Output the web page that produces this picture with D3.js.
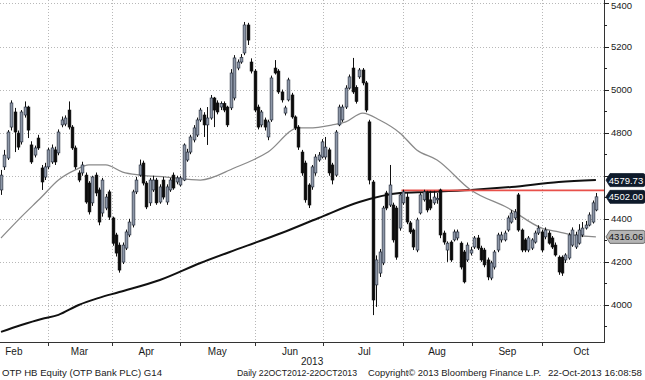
<!DOCTYPE html>
<html><head><meta charset="utf-8">
<script src="https://cdn.jsdelivr.net/npm/d3@7"></script>
<style>
body{margin:0;background:#fff;}
svg{display:block;font-family:"Liberation Sans",Arial,sans-serif;}
</style>
</head><body>
<svg id="c" width="645" height="380"></svg>
<script>
// ---- DATA (daily candles, trading-day index 0..176) ----
const open  = [4534,4641,4682,4826,4896,4798,4757,4882,4919,4743,4696,4775,4636,4594,4641,4664,4720,4706,4836,4840,4905,4826,4729,4613,4613,4603,4566,4474,4603,4534,4427,4450,4525,4404,4325,4278,4199,4264,4325,4371,4525,4603,4659,4566,4474,4534,4580,4478,4580,4478,4534,4603,4571,4557,4580,4673,4710,4766,4789,4859,4882,4836,4868,4961,4938,4919,4935,4919,4915,4961,5100,5128,5170,5300,5128,5086,4919,4836,4859,4780,4859,5100,5086,4989,4891,4952,4975,4873,4826,4710,4659,4557,4548,4613,4673,4687,4687,4720,4650,4603,4836,4859,4919,5007,5100,5010,5059,5091,5031,4850,4571,4093,4148,4195,4520,4464,4464,4450,4357,4474,4501,4381,4348,4255,4427,4488,4520,4488,4474,4488,4534,4334,4255,4292,4302,4311,4287,4246,4209,4241,4269,4311,4264,4255,4209,4125,4176,4255,4302,4302,4348,4385,4404,4511,4348,4302,4255,4264,4292,4334,4339,4316,4334,4311,4278,4222,4222,4209,4218,4278,4269,4287,4325,4357,4371,4385,4441];
const high  = [4627,4720,4812,4950,4915,4810,4905,4945,4925,4760,4740,4790,4650,4660,4730,4745,4735,4815,4875,4880,4945,4835,4740,4625,4665,4615,4575,4600,4615,4545,4590,4515,4535,4410,4335,4290,4290,4350,4400,4535,4595,4675,4670,4575,4590,4600,4590,4560,4595,4560,4590,4615,4600,4600,4750,4725,4790,4835,4870,4915,4895,4919,4975,4966,4950,4945,4945,4925,5095,5160,5140,5165,5314,5310,5145,5095,4930,4905,4870,4860,5065,5137,5095,5000,4925,5055,4985,4880,4835,4720,4670,4565,4650,4700,4710,4770,4780,4730,4660,4812,4930,4930,5020,5070,5147,5020,5100,5100,5040,4860,4580,4230,4260,4460,4530,4650,4475,4460,4520,4535,4520,4390,4355,4405,4520,4535,4530,4530,4530,4520,4540,4345,4295,4300,4350,4350,4295,4255,4290,4270,4320,4325,4275,4265,4220,4205,4255,4335,4340,4345,4415,4440,4445,4520,4355,4310,4320,4310,4345,4370,4350,4360,4345,4320,4290,4230,4230,4240,4335,4360,4340,4375,4385,4390,4430,4485,4520];
const low   = [4511,4627,4673,4810,4710,4720,4745,4870,4775,4655,4685,4720,4534,4580,4630,4655,4650,4695,4825,4830,4815,4720,4630,4570,4600,4470,4420,4460,4505,4370,4410,4440,4395,4275,4225,4150,4190,4255,4315,4360,4515,4595,4555,4445,4460,4525,4465,4470,4490,4465,4525,4535,4560,4550,4575,4665,4700,4755,4780,4850,4780,4743,4860,4826,4885,4905,4895,4826,4905,4950,5090,5120,5160,5207,5075,4895,4815,4825,4810,4765,4850,5070,4980,4940,4880,4945,4865,4812,4720,4600,4475,4450,4535,4600,4665,4680,4675,4600,4560,4595,4830,4850,4910,5000,4980,4935,5050,5020,4895,4560,3953,3991,4130,4185,4440,4455,4290,4210,4345,4465,4375,4330,4255,4245,4420,4480,4430,4440,4465,4470,4310,4280,4200,4200,4295,4300,4165,4100,4200,4230,4260,4255,4200,4175,4115,4115,4165,4245,4290,4295,4340,4378,4395,4340,4245,4245,4245,4255,4285,4325,4245,4305,4280,4260,4225,4140,4135,4195,4210,4270,4260,4280,4315,4350,4365,4378,4435];
const close = [4603,4696,4803,4938,4803,4733,4896,4919,4812,4664,4729,4729,4571,4641,4720,4729,4664,4803,4859,4868,4826,4729,4641,4580,4650,4478,4432,4594,4520,4385,4580,4501,4408,4287,4241,4162,4278,4339,4385,4525,4580,4650,4566,4455,4580,4580,4474,4548,4501,4548,4580,4543,4590,4590,4743,4710,4780,4822,4859,4905,4836,4868,4961,4905,4896,4935,4905,4836,5077,5147,5128,5150,5300,5230,5086,4905,4826,4896,4826,4850,5054,5077,4989,4952,4915,5045,4873,4822,4733,4613,4488,4464,4641,4687,4696,4757,4733,4613,4580,4803,4919,4919,5007,5059,4989,4945,5091,5031,4905,4580,4023,4209,4246,4450,4450,4557,4302,4222,4511,4525,4385,4339,4269,4395,4511,4525,4441,4450,4501,4495,4325,4292,4287,4209,4339,4339,4176,4107,4278,4255,4311,4264,4209,4186,4130,4195,4246,4325,4325,4334,4404,4427,4432,4348,4255,4255,4311,4302,4334,4357,4255,4348,4287,4269,4232,4153,4148,4232,4325,4348,4325,4348,4357,4371,4418,4474,4502];

// moving averages at selected trading-day indices
const ma50Idx  = [0,6,12,17,22,26,31,36,41,49,59,69,79,88,91,98,102,107,112,118,123,129,139,150,160,165,169,176];
const ma50Val  = [4311,4409,4501,4580,4627,4650,4650,4617,4603,4594,4580,4636,4710,4822,4822,4836,4850,4891,4859,4799,4720,4673,4534,4450,4357,4339,4325,4316.06];
const ma200Idx = [0,6,12,17,23,29,35,47,59,71,83,94,106,118,126,139,151,165,176];
const ma200Val = [3875,3907,3935,3954,4000,4033,4060,4116,4195,4265,4334,4404,4478,4520,4525,4534,4548,4571,4579.73];

const lastPrice = 4502.00;
const ma50Last = 4316.06;
const ma200Last = 4579.73;
const trendLevel = 4532;
const trendStartIdx = 118.5;

const yTicks = [4000,4200,4400,4600,4800,5000,5200,5400];
const yMinorTicks = [3900,4100,4300,4500,4700,4900,5100,5300];
const yLabelTicks = [4000,4200,4400,4800,5000,5200,5400];
const monthNames = ["Feb","Mar","Apr","May","Jun","Jul","Aug","Sep","Oct"];
const monthLabelIdx = [3.8,23.2,43,64,85.5,107.5,129,149.8,171.7];
const monthTickIdx = [13.8,32.8,53,75.1,95.3,118.8,139.3,160];
const yearLabel = "2013";
const yearLabelIdx = 88.5;
const footerLeft = "OTP HB Equity (OTP Bank PLC) G14";
const footerMid = "Daily 22OCT2012-22OCT2013";
const footerCopy = "Copyright\u00A9 2013 Bloomberg Finance L.P.";
const footerStamp = "22-Oct-2013 16:08:58";

// ---- CHART ----
const svg = d3.select("#c");
const plotR = 604, plotB = 342;
const x = d3.scaleLinear().domain([-0.296, 178.4]).range([0, plotR]);
const y = d3.scaleLinear().domain([3828, 5416]).range([plotB, 0]);

const g = svg.append("g");

// gridlines
g.selectAll("line.hg").data(yTicks).join("line")
  .attr("x1",0).attr("x2",plotR)
  .attr("y1",d=>Math.round(y(d))+0.5).attr("y2",d=>Math.round(y(d))+0.5)
  .attr("stroke","#b8b8b8").attr("stroke-dasharray","1,2");
g.selectAll("line.vg").data(monthTickIdx).join("line")
  .attr("x1",d=>Math.round(x(d))+0.5).attr("x2",d=>Math.round(x(d))+0.5)
  .attr("y1",0).attr("y2",plotB)
  .attr("stroke","#b8b8b8").attr("stroke-dasharray","1,2");

// 200-day MA
const line = d3.line().curve(d3.curveMonotoneX);
g.append("path")
  .attr("d", line(ma200Idx.map((d,i)=>[x(d), y(ma200Val[i])])))
  .attr("fill","none").attr("stroke","#111").attr("stroke-width",2);
// 50-day MA
g.append("path")
  .attr("d", line(ma50Idx.map((d,i)=>[x(d), y(ma50Val[i])])))
  .attr("fill","none").attr("stroke","#8a8a8a").attr("stroke-width",1.3);

// trend line
g.append("line")
  .attr("x1",x(trendStartIdx)).attr("x2",plotR)
  .attr("y1",y(trendLevel)).attr("y2",y(trendLevel))
  .attr("stroke","#e8504a").attr("stroke-width",1.6);

// candles
const idx = d3.range(open.length);
const cg = g.append("g");
cg.selectAll("line.w").data(idx).join("line")
  .attr("x1",i=>Math.round(x(i))+0.5).attr("x2",i=>Math.round(x(i))+0.5)
  .attr("y1",i=>y(high[i])).attr("y2",i=>y(low[i]))
  .attr("stroke","#111").attr("stroke-width",1);
cg.selectAll("rect.b").data(idx).join("rect")
  .attr("x",i=>Math.round(x(i))-0.9)
  .attr("width",2.8)
  .attr("y",i=>y(Math.max(open[i],close[i])))
  .attr("height",i=>Math.max(1, Math.abs(y(open[i])-y(close[i]))))
  .attr("fill",i=>close[i]>=open[i]?"#8d97a8":"#0b0b0b")
  .attr("stroke",i=>close[i]>=open[i]?"#1c2433":"#0b0b0b")
  .attr("stroke-width",0.6);

// axes lines
svg.append("line").attr("x1",plotR+0.5).attr("x2",plotR+0.5).attr("y1",0).attr("y2",plotB+0.5)
  .attr("stroke","#333").attr("stroke-width",1);
svg.append("line").attr("x1",0).attr("x2",plotR+1).attr("y1",plotB+0.5).attr("y2",plotB+0.5)
  .attr("stroke","#333").attr("stroke-width",1);

// y ticks
svg.selectAll("line.yt").data(yTicks).join("line")
  .attr("x1",plotR).attr("x2",plotR+5)
  .attr("y1",d=>Math.round(y(d))+0.5).attr("y2",d=>Math.round(y(d))+0.5)
  .attr("stroke","#222");
svg.selectAll("line.ym").data(yMinorTicks).join("line")
  .attr("x1",plotR).attr("x2",plotR+3)
  .attr("y1",d=>Math.round(y(d))+0.5).attr("y2",d=>Math.round(y(d))+0.5)
  .attr("stroke","#222");
svg.selectAll("text.yl").data(yLabelTicks).join("text")
  .attr("x",plotR+7).attr("y",d=>Math.max(y(d)+3.5, 8.6))
  .attr("font-size",9.5).attr("fill","#1a1a1a").text(d=>d);

// x ticks & labels
svg.selectAll("line.xt").data(monthTickIdx).join("line")
  .attr("x1",d=>Math.round(x(d))+0.5).attr("x2",d=>Math.round(x(d))+0.5)
  .attr("y1",plotB).attr("y2",plotB+4).attr("stroke","#333");
svg.selectAll("text.xl").data(monthNames).join("text")
  .attr("x",(d,i)=>x(monthLabelIdx[i])).attr("y",355)
  .attr("text-anchor","middle").attr("font-size",10).attr("fill","#1a1a1a").text(d=>d);
svg.append("text").attr("x",x(yearLabelIdx)+12).attr("y",365)
  .attr("text-anchor","middle").attr("font-size",10).attr("fill","#1a1a1a").text(yearLabel);

// footer
const ft = svg.append("g").attr("font-size",9.5).attr("fill","#1a1a1a");
ft.append("text").attr("x",2).attr("y",376)
  .attr("textLength",160).attr("lengthAdjust","spacingAndGlyphs").text(footerLeft);
ft.append("text").attr("x",237).attr("y",376)
  .attr("textLength",120).attr("lengthAdjust","spacingAndGlyphs").text(footerMid);
ft.append("text").attr("x",368).attr("y",376)
  .attr("textLength",173).attr("lengthAdjust","spacingAndGlyphs").text(footerCopy);
ft.append("text").attr("x",548).attr("y",376)
  .attr("textLength",94).attr("lengthAdjust","spacingAndGlyphs").text(footerStamp);

// value tags
function tag(v, fill, stroke, txtColor, label){
  const yc = y(v);
  const h = 6.5;
  svg.append("path")
    .attr("d",`M${plotR+2},${yc} L${plotR+6},${yc-h} L643,${yc-h} Q645,${yc-h} 645,${yc-h+2} L645,${yc+h-2} Q645,${yc+h} 643,${yc+h} L${plotR+6},${yc+h} Z`)
    .attr("fill",fill).attr("stroke",stroke).attr("stroke-width",0.8);
  svg.append("text").attr("x",626).attr("y",yc+3.5).attr("text-anchor","middle")
    .attr("font-size",9.5).attr("fill",txtColor).text(label);
}
tag(ma200Last,"#0f1b2b","#0f1b2b","#fff", d3.format(".2f")(ma200Last));
tag(lastPrice,"#0f1b2b","#0f1b2b","#fff", d3.format(".2f")(lastPrice));
tag(ma50Last,"#b4b4b4","#555","#111", d3.format(".2f")(ma50Last));
</script>
</body></html>
